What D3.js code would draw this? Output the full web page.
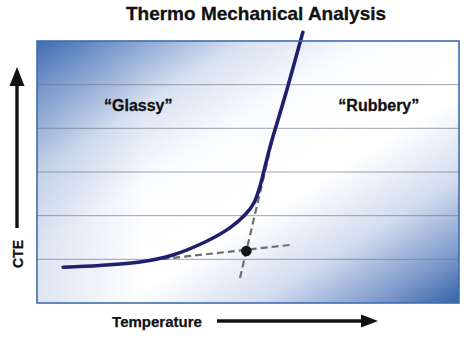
<!DOCTYPE html>
<html>
<head>
<meta charset="utf-8">
<script src="https://cdn.jsdelivr.net/npm/d3@7"></script>
<style>
  html, body { margin: 0; padding: 0; background: #ffffff; }
  svg { display: block; }
  text { font-family: "Liberation Sans", Arial, Helvetica, sans-serif; font-weight: bold; fill: #111; }
</style>
</head>
<body>
<script>
// TMA curve: coefficient of thermal expansion vs. temperature (arbitrary units)
const temperature = [6.2, 14.9, 24.4, 32.2, 40.3, 45.7, 49.3, 51.4, 52.8, 54.0, 55.2, 57.1, 59.2, 63.0];
const cte         = [0.82, 0.86, 0.94, 1.10, 1.42, 1.72, 2.02, 2.29, 2.66, 3.11, 3.57, 4.19, 4.88, 6.2];

// Tangent (extrapolated) lines for the glassy and rubbery regions
const glassyTangentT = [24.5, 60];
const glassyTangentC = [0.95, 1.33];
const rubberyTangentT = [48.1, 55.9];
const rubberyTangentC = [0.57, 3.78];

// Glass transition point (intersection of the tangents)
const tgT = [49.6];
const tgC = [1.19];

// Horizontal reference lines
const gridValues = [1, 2, 3, 4, 5];

const regionLabels = ["\u201CGlassy\u201D", "\u201CRubbery\u201D"];
const regionLabelT = [24, 81];
const regionLabelC = [4.4, 4.4];

const title = "Thermo Mechanical Analysis";
const xLabel = "Temperature";
const yLabel = "CTE";

const W = 474, H = 344;
const box = { left: 37, right: 459, top: 41, bottom: 303 };

const x = d3.scaleLinear().domain([0, 100]).range([box.left, box.right]);
const y = d3.scaleLinear().domain([0, 6]).range([box.bottom, box.top]);

const svg = d3.select("body").append("svg").attr("width", W).attr("height", H);
const defs = svg.append("defs");

// Diagonal shading: blue in the top-left and bottom-right corners
const grad = defs.append("linearGradient")
  .attr("id", "bg").attr("x1", 0).attr("y1", 0).attr("x2", 1).attr("y2", 1);
[
  [0.00, "#3563ad"],
  [0.10, "#7d9bcd"],
  [0.25, "#d9e2f1"],
  [0.40, "#fbfcfe"],
  [0.60, "#ffffff"],
  [0.76, "#d3ddef"],
  [0.90, "#7f9acb"],
  [1.00, "#3362a9"]
].forEach(([o, c]) => grad.append("stop").attr("offset", o).attr("stop-color", c));

// Faint tint along the left edge
const edge = defs.append("linearGradient")
  .attr("id", "edge").attr("x1", 0).attr("y1", 0).attr("x2", 1).attr("y2", 0);
edge.append("stop").attr("offset", 0).attr("stop-color", "#6f8fc6").attr("stop-opacity", 0.22);
edge.append("stop").attr("offset", 0.25).attr("stop-color", "#6f8fc6").attr("stop-opacity", 0);

// Background panel
svg.append("rect")
  .attr("x", box.left).attr("y", box.top)
  .attr("width", box.right - box.left).attr("height", box.bottom - box.top)
  .attr("fill", "url(#bg)");
svg.append("rect")
  .attr("x", box.left).attr("y", box.top)
  .attr("width", box.right - box.left).attr("height", box.bottom - box.top)
  .attr("fill", "url(#edge)");

// Grid lines
svg.append("g").selectAll("line").data(gridValues).join("line")
  .attr("x1", box.left).attr("x2", box.right)
  .attr("y1", d => y(d)).attr("y2", d => y(d))
  .attr("stroke", "#737c8c").attr("stroke-opacity", 0.7).attr("stroke-width", 1);

const line = d3.line().x(d => x(d[0])).y(d => y(d[1]));

// Tangent lines
const dashed = svg.append("g")
  .attr("fill", "none").attr("stroke", "#6e6e6e")
  .attr("stroke-width", 2.2).attr("stroke-dasharray", "7,4");
dashed.append("path").attr("d", line(d3.zip(glassyTangentT, glassyTangentC)));
dashed.append("path").attr("d", line(d3.zip(rubberyTangentT, rubberyTangentC)));

// Expansion curve
svg.append("path")
  .attr("d", d3.line().x(d => x(d[0])).y(d => y(d[1]))
    .curve(d3.curveCatmullRom.alpha(0.5))(d3.zip(temperature, cte)))
  .attr("fill", "none").attr("stroke", "#1e206e")
  .attr("stroke-width", 3.6).attr("stroke-linecap", "round");

// Tg marker
svg.append("g").selectAll("circle").data(d3.zip(tgT, tgC)).join("circle")
  .attr("cx", d => x(d[0])).attr("cy", d => y(d[1])).attr("r", 5.3)
  .attr("fill", "#151515");

// Panel border
svg.append("rect")
  .attr("x", box.left).attr("y", box.top)
  .attr("width", box.right - box.left).attr("height", box.bottom - box.top)
  .attr("fill", "none").attr("stroke", "#3e6db0").attr("stroke-width", 1.6);

// Region labels
svg.append("g").selectAll("text").data(regionLabels).join("text")
  .attr("x", (d, i) => x(regionLabelT[i]))
  .attr("y", (d, i) => y(regionLabelC[i]))
  .attr("text-anchor", "middle").attr("font-size", 16)
  .attr("stroke", "#111").attr("stroke-width", 0.3)
  .text(d => d);

// Title
svg.append("text")
  .attr("x", 256).attr("y", 20)
  .attr("text-anchor", "middle").attr("font-size", 19)
  .attr("stroke", "#111").attr("stroke-width", 0.3)
  .text(title);

// X axis label and arrow
svg.append("text")
  .attr("x", 157).attr("y", 327)
  .attr("text-anchor", "middle").attr("font-size", 15)
  .attr("stroke", "#111").attr("stroke-width", 0.25)
  .text(xLabel);
svg.append("line")
  .attr("x1", 217).attr("x2", 364).attr("y1", 321).attr("y2", 321)
  .attr("stroke", "#111").attr("stroke-width", 3.4);
svg.append("path")
  .attr("d", "M378,321 L361,314.5 L361,327.5 Z").attr("fill", "#111");

// Y axis label and arrow
svg.append("text")
  .attr("transform", "translate(23,254) rotate(-90)")
  .attr("text-anchor", "middle").attr("font-size", 14)
  .attr("stroke", "#111").attr("stroke-width", 0.25)
  .text(yLabel);
svg.append("line")
  .attr("x1", 17).attr("x2", 17).attr("y1", 228).attr("y2", 84)
  .attr("stroke", "#111").attr("stroke-width", 3.4);
svg.append("path")
  .attr("d", "M17,67 L9.5,86 L24.5,86 Z").attr("fill", "#111");
</script>
</body>
</html>
